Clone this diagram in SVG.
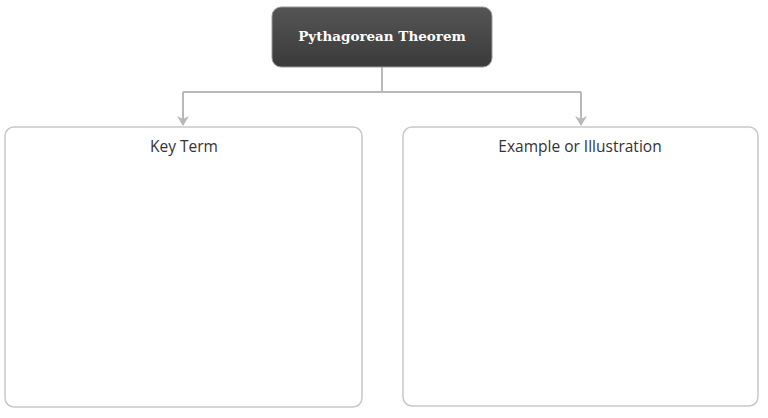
<svg xmlns="http://www.w3.org/2000/svg" width="768" height="418" viewBox="0 0 768 418">
  <style>
    .box { fill: #ffffff; stroke: #c8c8c8; stroke-width: 1.5; }
    .label { font-family: "Open Sans", "Liberation Sans", sans-serif; font-size: 15.5px; fill: #333333; text-anchor: middle; }
    .title { font-family: "DejaVu Serif", "Liberation Serif", serif; font-weight: bold; font-size: 13.5px; fill: #ffffff; text-anchor: middle; }
    .conn { fill: none; stroke: #b8b8b8; stroke-width: 2; }
  </style>
  <defs>
    <marker id="arrow" viewBox="0 0 10 12" refX="9" refY="6" markerWidth="5" markerHeight="6" orient="auto" markerUnits="strokeWidth">
      <path d="M0,0 L10,6 L0,12 L3,6 z" fill="#b8b8b8"/>
    </marker>
    <linearGradient id="dark" x1="0" y1="0" x2="0" y2="1">
      <stop offset="0" stop-color="#555555"/>
      <stop offset="1" stop-color="#3a3a3a"/>
    </linearGradient>
  </defs>
  <rect width="768" height="418" fill="#ffffff"/>
  <g id="connectors">
    <path class="conn" d="M382,67 V92"/>
    <path class="conn" d="M183,92 H581"/>
    <path class="conn" d="M183,92 V125" marker-end="url(#arrow)"/>
    <path class="conn" d="M581,92 V125" marker-end="url(#arrow)"/>
  </g>
  <g id="node-title">
    <rect x="272" y="7" width="220" height="60" rx="9" fill="url(#dark)" stroke="#9a9a9a" stroke-width="1"/>
    <text class="title" x="382" y="41">Pythagorean Theorem</text>
  </g>
  <g id="node-key-term">
    <rect class="box" x="5" y="127" width="357" height="280" rx="9"/>
    <text class="label" x="184" y="152">Key Term</text>
  </g>
  <g id="node-example">
    <rect class="box" x="403" y="127" width="355" height="279" rx="9"/>
    <text class="label" x="580" y="152">Example or Illustration</text>
  </g>
</svg>
